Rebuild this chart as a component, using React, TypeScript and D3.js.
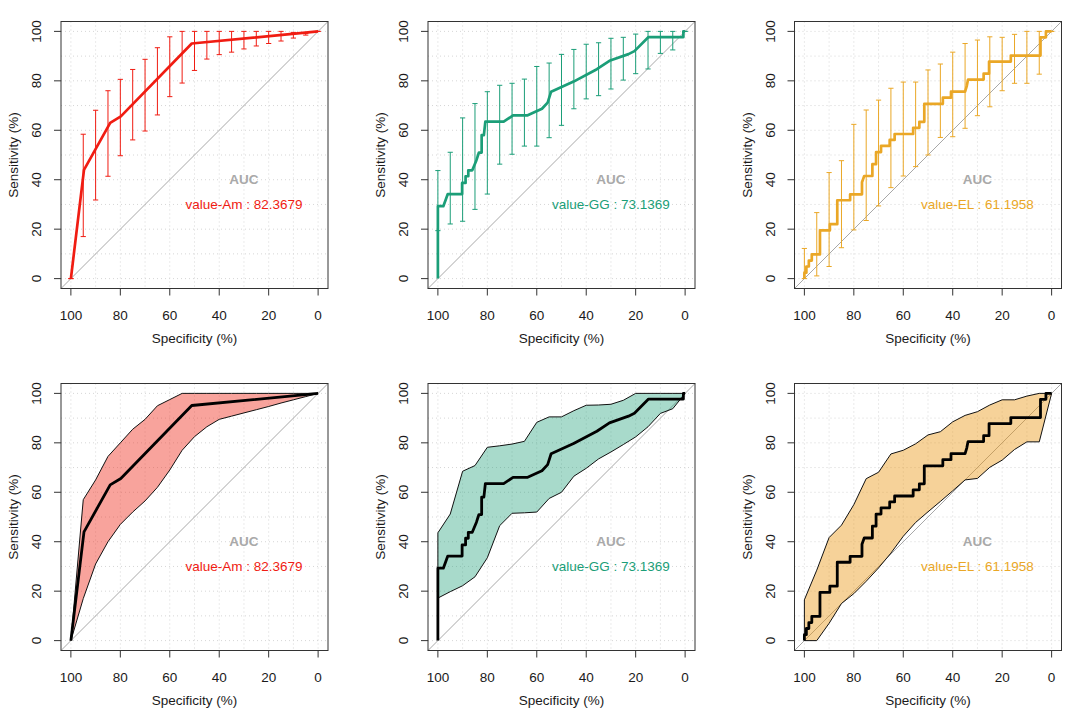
import React, { useEffect, useRef } from "react";
import * as d3 from "d3";

// specificities where pROC computed the CI of sensitivity
const ciSpec = [100, 95, 90, 85, 80, 75, 70, 65, 60, 55, 50, 45, 40, 35, 30, 25, 20, 15, 10, 5, 0];
const axisTicks = [0, 20, 40, 60, 80, 100];
const gridLines = [0, 10, 20, 30, 40, 50, 60, 70, 80, 90, 100];

// ROC curves (specificity %, sensitivity %)
const amSpec = [100, 94.7, 84.1, 79.8, 51.1, 0];
const amSens = [0, 44, 63, 65.6, 95.1, 100];

const ggSpec = [100, 100, 97.8, 96.8, 96, 90.2, 90.2, 88.8, 88.8, 87.7, 87.7, 86.1, 84.4, 83.4, 82.3, 82.3, 81.4, 80.8, 73.4, 69.6, 63.9, 57.9, 55.6, 54.2, 45.1, 35.7, 30.6, 22.9, 20.5, 14.8, 0.7, 0.7, 0];
const ggSens = [0, 29.3, 29.3, 32, 34.2, 34.2, 38.7, 38.7, 41.4, 41.4, 43.8, 43.8, 47.9, 51, 51, 58, 58, 63.5, 63.5, 66, 66, 68.7, 71.2, 75.6, 79.7, 84.7, 88.1, 90.8, 92, 97.7, 97.7, 100, 100];

const elSpec = [100, 100, 99.2, 99.2, 98.2, 98.2, 97, 97, 93.7, 93.7, 89.7, 89.7, 86.7, 86.7, 81.5, 81.5, 76.7, 76.7, 75.8, 72.5, 72.5, 71, 71, 69, 69, 65.5, 65.5, 63.5, 63.5, 56, 56, 53.5, 53.5, 51.5, 51.5, 44, 44, 40.7, 40.7, 35, 34.3, 33.8, 27.5, 27.5, 25.3, 25.3, 16.5, 16.5, 4.5, 4.5, 2.3, 2.3, 0];
const elSens = [0, 2.4, 2.4, 4.9, 4.9, 7.3, 7.3, 9.8, 9.8, 19.5, 19.5, 22, 22, 31.7, 31.7, 34.1, 34.1, 39, 41.5, 41.5, 46.3, 46.3, 51.2, 51.2, 53.7, 53.7, 56.1, 56.1, 58.5, 58.5, 61, 61, 63.4, 63.4, 70.7, 70.7, 73.2, 73.2, 75.6, 75.6, 78, 80.5, 80.5, 82.9, 82.9, 87.8, 87.8, 90.2, 90.2, 97.6, 97.6, 100, 100];

// error bars of the top row
const amBarLo = [0, 17, 31.8, 41.4, 49.7, 56.1, 59.7, 66.2, 73.6, 79.1, 84.2, 88.8, 90.6, 91.6, 92.9, 94.1, 95.1, 96.1, 97.3, 98.5, 100];
const amBarHi = [0, 58.4, 68.1, 76, 80.6, 84.6, 88.7, 93.4, 97.8, 100, 100, 100, 100, 100, 100, 100, 100, 100, 99.6, 99.2, 100];
const ggBarLo = [19.4, 22.1, 23.2, 28, 34.2, 46.3, 50.3, 53.6, 53.6, 57, 62, 68.7, 72.7, 74, 76.7, 80.3, 82.9, 84.8, 91.1, 92.5, 100];
const ggBarHi = [43.7, 51.1, 65, 70.8, 75.6, 78.2, 79, 80.7, 85.8, 87.2, 90.7, 92.7, 94.8, 95.4, 97.2, 97.6, 98.9, 100, 100, 100, 100];
const elBarLo = [0, 1.1, 4.9, 12.5, 19.7, 23.5, 29.4, 36.8, 41.5, 45.3, 50, 57.1, 57.4, 60.8, 65.9, 69.5, 76, 79, 79, 82.7, 100];
const elBarHi = [12.2, 26.7, 42.9, 47.7, 62.4, 68.2, 72.2, 77, 79.5, 79.5, 84.4, 86.8, 91.6, 95.1, 96.5, 97.8, 97.6, 98.8, 100, 100, 100];

// confidence shapes of the bottom row
const amBandLo = [0, 17, 31, 40, 47, 52, 56.5, 62, 69, 77, 82.5, 86.5, 89.5, 90.8, 92.1, 93.4, 94.7, 96.1, 97.4, 98.7, 100];
const amBandHi = [0, 57, 65, 74.5, 80, 85.5, 89.5, 95, 97.5, 100, 100, 100, 100, 100, 100, 100, 100, 100, 100, 100, 100];
const ggBandLo = [17.2, 19.8, 22.2, 25.8, 33.5, 46.5, 51.5, 51.7, 52, 57.5, 60, 66.5, 69.7, 73.5, 76.3, 79.3, 82.4, 86.5, 91.9, 93.8, 100];
const ggBandHi = [43.6, 51.2, 68.5, 70.8, 78.2, 78.8, 79.5, 80.6, 88.3, 90.5, 90.5, 93, 95.2, 95.3, 95.6, 97.2, 100, 100, 100, 100, 100];
const elBandLo = [0, 0, 7, 15, 19, 24, 29.4, 35.4, 42.2, 47.8, 52.1, 56.3, 60.6, 65, 65.6, 70.1, 73, 77.3, 80.4, 80.4, 100];
const elBandHi = [16.5, 28.5, 41.7, 46.7, 55, 65.5, 68.1, 75.5, 77, 79.6, 83.2, 84.5, 88.5, 91.1, 92.6, 95.3, 97.4, 97.4, 98.9, 100, 100];

const labels = ["value-Am : 82.3679", "value-GG : 73.1369", "value-EL : 61.1958"];
const colors = ["#f01c12", "#1b9e78", "#eaa726"];
const fills = ["#ef3323", "#1b9e77", "#eb9713"];
const fillOpacity = [0.45, 0.38, 0.43];

const W = 1080;
const H = 716;
const boxW = 267;
const boxH = 267;
const colX = [61, 428, 794.5];
const rowY = [21.5, 383.5];
const font = "'Liberation Sans', Arial, Helvetica, sans-serif";

export default function App() {
  const svgRef = useRef<SVGSVGElement>(null);

  useEffect(() => {
    if (!svgRef.current) return;
    const svg = d3.select(svgRef.current);
    svg.selectAll("*").remove();

    const curves = [
      { spec: amSpec, sens: amSens, barLo: amBarLo, barHi: amBarHi, bandLo: amBandLo, bandHi: amBandHi },
      { spec: ggSpec, sens: ggSens, barLo: ggBarLo, barHi: ggBarHi, bandLo: ggBandLo, bandHi: ggBandHi },
      { spec: elSpec, sens: elSens, barLo: elBarLo, barHi: elBarHi, bandLo: elBandLo, bandHi: elBandHi }
    ];

    const x = d3.scaleLinear().domain([104, -4]).range([0, boxW]);
    const y = d3.scaleLinear().domain([-4, 104]).range([boxH, 0]);

    rowY.forEach((y0, row) => {
      curves.forEach((c, col) => {
        const g = svg.append("g").attr("transform", `translate(${colX[col]},${y0})`);
        const pts = c.spec.map((s, i) => [s, c.sens[i]] as [number, number]);

        // dotted grid
        g.selectAll(".gx")
          .data(gridLines)
          .join("line")
          .attr("x1", (d) => x(d)).attr("x2", (d) => x(d))
          .attr("y1", 0).attr("y2", boxH)
          .attr("stroke", "#d6d6d6").attr("stroke-dasharray", "1,3");
        g.selectAll(".gy")
          .data(gridLines)
          .join("line")
          .attr("y1", (d) => y(d)).attr("y2", (d) => y(d))
          .attr("x1", 0).attr("x2", boxW)
          .attr("stroke", "#d6d6d6").attr("stroke-dasharray", "1,3");

        // identity line
        g.append("line")
          .attr("x1", x(104)).attr("y1", y(-4))
          .attr("x2", x(-4)).attr("y2", y(104))
          .attr("stroke", "#a8a8a8").attr("stroke-width", 1);

        if (row === 0) {
          const bars = g.append("g").attr("stroke", colors[col]).attr("stroke-width", 1);
          ciSpec.forEach((s, i) => {
            const cx = x(s);
            bars.append("line").attr("x1", cx).attr("x2", cx).attr("y1", y(c.barLo[i])).attr("y2", y(c.barHi[i]));
            [c.barLo[i], c.barHi[i]].forEach((v) => {
              bars.append("line").attr("x1", cx - 2.6).attr("x2", cx + 2.6).attr("y1", y(v)).attr("y2", y(v));
            });
          });
          g.append("path")
            .datum(pts)
            .attr("fill", "none")
            .attr("stroke", colors[col])
            .attr("stroke-width", 2.7)
            .attr("stroke-linejoin", "round")
            .attr("d", d3.line().x((d) => x(d[0])).y((d) => y(d[1])));
        } else {
          const band = ciSpec.map((s, i) => ({ s, lo: c.bandLo[i], hi: c.bandHi[i] }));
          g.append("path")
            .datum(band)
            .attr("fill", fills[col])
            .attr("fill-opacity", fillOpacity[col])
            .attr("stroke", "#111")
            .attr("stroke-width", 1)
            .attr("d", d3.area<{ s: number; lo: number; hi: number }>()
              .x((d) => x(d.s))
              .y0((d) => y(d.lo))
              .y1((d) => y(d.hi)));
          g.append("path")
            .datum(pts)
            .attr("fill", "none")
            .attr("stroke", "#000")
            .attr("stroke-width", 2.8)
            .attr("stroke-linejoin", "round")
            .attr("d", d3.line().x((d) => x(d[0])).y((d) => y(d[1])));
        }

        // box
        g.append("rect")
          .attr("x", 0).attr("y", 0)
          .attr("width", boxW).attr("height", boxH)
          .attr("fill", "none").attr("stroke", "#333").attr("stroke-width", 1);

        // axes
        const ax = g.append("g").attr("stroke", "#333");
        axisTicks.forEach((t) => {
          ax.append("line").attr("x1", x(t)).attr("x2", x(t)).attr("y1", boxH).attr("y2", boxH + 7);
          ax.append("line").attr("y1", y(t)).attr("y2", y(t)).attr("x1", 0).attr("x2", -7);
        });

        const txt = g.append("g").attr("font-family", font).attr("font-size", 13.5).attr("fill", "#1a1a1a");
        axisTicks.forEach((t) => {
          txt.append("text").attr("x", x(t)).attr("y", boxH + 31).attr("text-anchor", "middle").text(String(t));
          txt.append("text")
            .attr("transform", `translate(-20,${y(t)}) rotate(-90)`)
            .attr("text-anchor", "middle")
            .text(String(t));
        });
        txt.append("text").attr("x", boxW / 2).attr("y", boxH + 54).attr("text-anchor", "middle").text("Specificity (%)");
        txt.append("text")
          .attr("transform", `translate(-43,${boxH / 2}) rotate(-90)`)
          .attr("text-anchor", "middle")
          .text("Sensitivity (%)");

        // AUC annotation
        txt.append("text")
          .attr("x", x(30)).attr("y", y(40)).attr("dy", "0.35em")
          .attr("text-anchor", "middle").attr("font-weight", "bold").attr("fill", "#a9a9a9")
          .text("AUC");
        txt.append("text")
          .attr("x", x(30)).attr("y", y(30)).attr("dy", "0.35em")
          .attr("text-anchor", "middle").attr("fill", colors[col])
          .text(labels[col]);
      });
    });
  }, []);

  return (
    <div style={{ position: "absolute", left: 0, top: 0, width: W, height: H, background: "#fff" }}>
      <svg ref={svgRef} width={W} height={H} />
    </div>
  );
}
